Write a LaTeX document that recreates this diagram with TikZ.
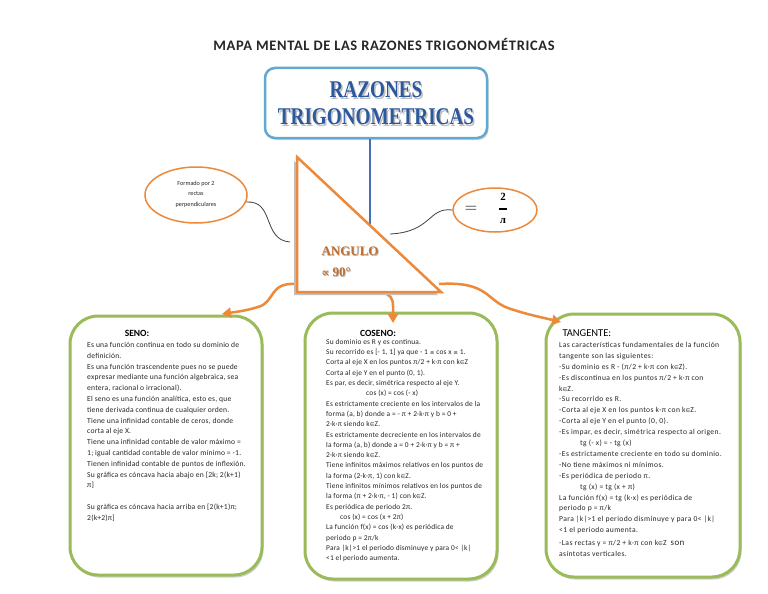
\documentclass[tikz,border=0pt]{standalone}
\usepackage{fontspec}
\setmainfont{Carlito}
\newfontfamily\symf{DejaVu Sans}
\newfontfamily\serifb{Liberation Serif}
\usetikzlibrary{arrows.meta,shapes.geometric,shadows}
\definecolor{orng}{RGB}{236,137,58}
\definecolor{grn}{RGB}{155,187,89}
\definecolor{bluebd}{RGB}{98,168,208}
\definecolor{bluetx}{RGB}{44,88,158}
\definecolor{brn}{RGB}{190,112,52}
\definecolor{linebl}{RGB}{72,112,185}
\newcommand{\kin}{{\symf\fontsize{5.5}{6}\selectfont ∈}}
\newcommand{\leqs}{{\symf\fontsize{5.5}{6}\selectfont ≤}}
\tikzset{
  gbox/.style={draw=grn, line width=3pt, rounded corners=28pt, fill=white,
    drop shadow={shadow xshift=1.5pt, shadow yshift=-2.5pt, fill=black!30, opacity=.6}},
  btext/.style={anchor=north west, inner sep=0pt, align=left, text=black!85},
  oarrow/.style={draw=orng, line width=2.5pt, -{Triangle[length=9pt,width=10pt]}},
  conn/.style={draw=black!75, line width=0.8pt},
  oell/.style={ellipse, draw=orng, line width=1.5pt, fill=white},
}
\begin{document}
\begin{tikzpicture}[x=1pt,y=-1pt]
\useasboundingbox (0,0) rectangle (768,594);
\fill[white] (0,0) rectangle (768,594);

% title
\node[font=\bfseries\fontsize{14.5}{16}\selectfont\addfontfeature{LetterSpace=4.4}, text=black!85] (title) at (384,44) {MAPA MENTAL DE LAS RAZONES TRIGONOMÉTRICAS};

% top box
\node[draw=bluebd, line width=2.5pt, rounded corners=10pt, minimum width=222, minimum height=70, fill=white,
  drop shadow={shadow xshift=1.5pt, shadow yshift=-2pt, fill=black!30, opacity=.5}] (top) at (376,103) {};
\node[font=\serifb\bfseries\fontsize{24}{28}\selectfont, text=black!25] at (377.5,91.5) {\scalebox{0.8}[1]{RAZONES}};
\node[font=\serifb\bfseries\fontsize{24}{28}\selectfont, text=bluetx] (raz) at (376,90) {\scalebox{0.8}[1]{RAZONES}};
\node[font=\serifb\bfseries\fontsize{24}{28}\selectfont, text=black!25] at (377.5,118.5) {\scalebox{0.8}[1]{TRIGONOMETRICAS}};
\node[font=\serifb\bfseries\fontsize{24}{28}\selectfont, text=bluetx] (trig) at (376,117) {\scalebox{0.8}[1]{TRIGONOMETRICAS}};

% boxes
\node[gbox, minimum width=192, minimum height=259] (seno) at (166,445.5) {};
\node[gbox, minimum width=192, minimum height=266] (coseno) at (401,446) {};
\node[gbox, minimum width=194, minimum height=263] (tang) at (643,445.5) {};

% triangle
\coordinate (tA) at (297,157);
\coordinate (tB) at (297,292);
\coordinate (tC) at (441,292);
\coordinate (lineend) at (370,226);
\draw[linebl, line width=1.5pt] (top.south -| lineend) -- (lineend);

% arrows
\coordinate (aL) at (297,284);
\coordinate (aM) at (381,292);
\coordinate (aR) at (439,284);
\coordinate (tipL) at (222,314);
\coordinate (tipM) at (393,323);
\coordinate (tipR) at (561,322);
\draw[oarrow] (aL) .. controls (268,282) and (276,302) .. (258,307) .. controls (245,311) and (235,312) .. (tipL);
\draw[oarrow] (aM) .. controls (390,294) and (393,298) .. (393,306) -- (tipM);
\draw[oarrow] (aR) .. controls (488,281) and (486,300) .. (508,308) .. controls (525,314) and (540,317) .. (tipR);

\fill[black!25] (294,161) -- (294,295) -- (438,295) -- cycle;
\draw[orng, line width=2.5pt, fill=white, line join=miter] (tA) -- (tB) -- (tC) -- cycle;
\node[anchor=west, font=\serifb\bfseries\fontsize{13}{14}\selectfont, text=black!30] at (318.8,252.2) {ANGULO};
\node[anchor=west, font=\serifb\bfseries\fontsize{13}{14}\selectfont, text=brn] (ang) at (318,251) {ANGULO};
\node[anchor=west, font=\serifb\bfseries\fontsize{13}{14}\selectfont, text=black!30] at (318.8,273.2) {{\symf\fontsize{11}{12}\selectfont ∝} 90°};
\node[anchor=west, font=\serifb\bfseries\fontsize{13}{14}\selectfont, text=brn] (ang2) at (318,272) {{\symf\fontsize{11}{12}\selectfont ∝} 90°};

% ellipses
\node[oell, minimum width=102, minimum height=56] (e1) at (196,195) {};
\node[font=\fontsize{6.2}{10.5}\selectfont, align=center, text=black!85] (e1t) at (196,194) {Formado por 2\\rectas\\perpendiculares};
\node[oell, minimum width=84, minimum height=44] (e2) at (495,210) {};
\node[font=\fontsize{16}{16}\selectfont] (eq) at (471,209) {$=$};
\node[font=\serifb\bfseries\fontsize{11}{12}\selectfont, inner sep=0pt] (two) at (503,197) {2};
\draw[line width=1.6pt] (499,209) -- (507,209);
\node[font=\serifb\bfseries\fontsize{11}{12}\selectfont, inner sep=0pt] (pi) at (503,221) {л};

\coordinate (c1) at (290,242);
\coordinate (c2) at (390,234);
\draw[conn] (e1.-8) .. controls (275,200) and (262,240) .. (c1);
\draw[conn] (e2.west) .. controls (428,207) and (432,232) .. (c2);

% SENO
\node[font=\bfseries\fontsize{9.5}{11}\selectfont] (st) at (137,333) {SENO:};
\node[btext, font=\fontsize{7.6}{10.8}\selectfont\addfontfeature{LetterSpace=2.7}] (stext) at (87,342) {%
Es una función continua en todo su dominio de\\
definición.\\
Es una función trascendente pues no se puede\\
expresar mediante una función algebraica, sea\\
entera, racional o irracional).\\
El seno es una función analítica, esto es, que\\
tiene derivada continua de cualquier orden.\\
Tiene una infinidad contable de ceros, donde\\
corta al eje X.\\
Tiene una infinidad contable de valor máximo =\\
1; igual cantidad contable de valor mínimo = -1.\\
Tienen infinidad contable de puntos de inflexión.\\
Su gráfica es cóncava hacia abajo en [2k; 2(k+1)\\
π]\\[10.8pt]
Su gráfica es cóncava hacia arriba en [2(k+1)π;\\
2(k+2)π]};

% COSENO
\node[font=\bfseries\fontsize{9.5}{11}\selectfont] (ct) at (378,333) {COSENO:};
\node[btext, font=\fontsize{7.4}{10.3}\selectfont\addfontfeature{LetterSpace=2.5}] (ctext) at (326,339) {%
Su dominio es R y es continua.\\
Su recorrido es [- 1, 1] ya que - 1 \leqs{} cos x \leqs{} 1.\\
Corta al eje X en los puntos π/2 + k·π con k\kin Z\\
Corta al eje Y en el punto (0, 1).\\
Es par, es decir, simétrica respecto al eje Y.\\
\hspace*{40pt}cos (x) = cos (- x)\\
Es estrictamente creciente en los intervalos de la\\
forma (a, b) donde a = - π + 2·k·π y b = 0 +\\
2·k·π siendo k\kin Z.\\
Es estrictamente decreciente en los intervalos de\\
la forma (a, b) donde a = 0 + 2·k·π y b = π +\\
2·k·π siendo k\kin Z.\\
Tiene infinitos máximos relativos en los puntos de\\
la forma (2·k·π, 1) con k\kin Z.\\
Tiene infinitos mínimos relativos en los puntos de\\
la forma (π + 2·k·π, - 1) con k\kin Z.\\
Es periódica de periodo 2π.\\
\hspace*{14pt}cos (x) = cos (x + 2π)\\
La función f(x) = cos (k·x) es periódica de\\
periodo p = 2π/k\\
Para |k|>1 el periodo disminuye y para 0< |k|\\
<1 el periodo aumenta.};

% TANGENTE
\node[anchor=west, font=\fontsize{10.5}{12}\selectfont] (tt) at (559,333) {TANGENTE:};
\node[btext, font=\fontsize{7.6}{10.9}\selectfont\addfontfeature{LetterSpace=5}] (ttext) at (559,342) {%
Las características fundamentales de la función\\
tangente son las siguientes:\\
-Su dominio es R - (π/2 + k·π con k\kin Z).\\
-Es discontinua en los puntos π/2 + k·π con\\
k\kin Z.\\
-Su recorrido es R.\\
-Corta al eje X en los puntos k·π con k\kin Z.\\
-Corta al eje Y en el punto (0, 0).\\
-Es impar, es decir, simétrica respecto al origen.\\
\hspace*{21pt}tg (- x) = - tg (x)\\
-Es estrictamente creciente en todo su dominio.\\
-No tiene máximos ni mínimos.\\
-Es periódica de periodo π.\\
\hspace*{21pt}tg (x) = tg (x + π)\\
La función f(x) = tg (k·x) es periódica de\\
periodo p = π/k\\
Para |k|>1 el periodo disminuye y para 0< |k|\\
<1 el periodo aumenta.\\[2pt]
-Las rectas y = π/2 + k·π con k\kin Z\hspace{4pt}{\fontsize{9}{10}\selectfont son}\\
asíntotas verticales.};
\end{tikzpicture}
\end{document}
